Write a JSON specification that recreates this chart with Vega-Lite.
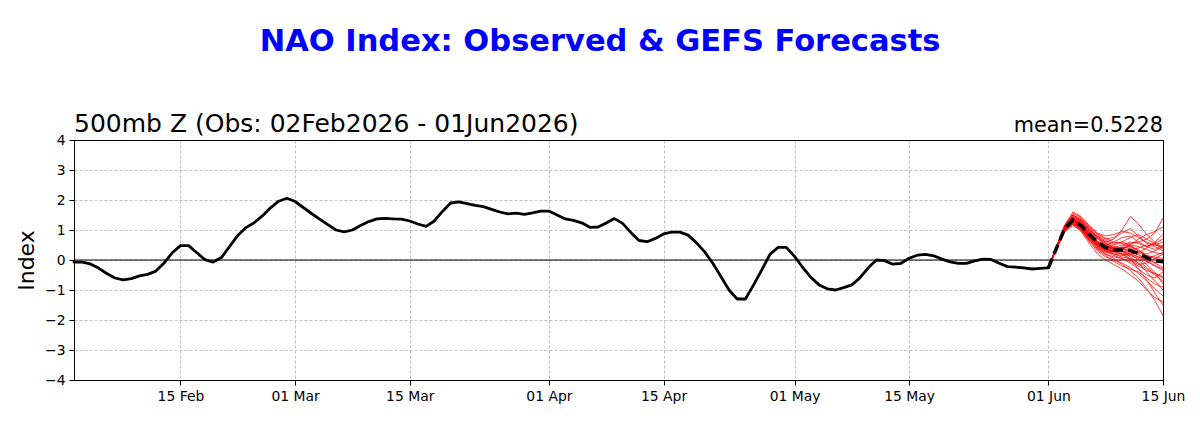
{
  "$schema": "https://vega.github.io/schema/vega-lite/v6.json",
  "width": 1089,
  "height": 240,
  "autosize": {"type": "none"},
  "padding": {"left": 74, "top": 140, "right": 37, "bottom": 50},
  "background": "white",
  "title": {"text": "NAO Index: Observed & GEFS Forecasts", "anchor": "middle", "frame": "group", "font": "DejaVu Sans", "fontSize": 30.5, "fontWeight": "bold", "color": "#0000ff", "baseline": "alphabetic", "offset": 31, "dx": -18.5},
  "config": {
    "view": {"stroke": "black", "strokeWidth": 1},
    "axis": {"labelFont": "DejaVu Sans", "labelFontSize": 13.9, "labelColor": "black", "tickColor": "black", "domainColor": "black", "tickSize": 5, "labelPadding": 4, "gridColor": "#b0b0b0", "gridWidth": 0.8, "titleFont": "DejaVu Sans", "titleFontWeight": "normal", "titleColor": "black", "labelFlush": false, "labelOverlap": false},
    "axisY": {"tickCount": 12}
  },
  "datasets": {
    "obs": [
      {"t": "2026-02-02", "v": -0.07}, {"t": "2026-02-03", "v": -0.07}, {"t": "2026-02-04", "v": -0.13}, {"t": "2026-02-05", "v": -0.27}, {"t": "2026-02-06", "v": -0.45}, {"t": "2026-02-07", "v": -0.6}, {"t": "2026-02-08", "v": -0.66}, {"t": "2026-02-09", "v": -0.62}, {"t": "2026-02-10", "v": -0.53}, {"t": "2026-02-11", "v": -0.48}, {"t": "2026-02-12", "v": -0.37}, {"t": "2026-02-13", "v": -0.1}, {"t": "2026-02-14", "v": 0.24}, {"t": "2026-02-15", "v": 0.48}, {"t": "2026-02-16", "v": 0.48}, {"t": "2026-02-17", "v": 0.24}, {"t": "2026-02-18", "v": 0.01}, {"t": "2026-02-19", "v": -0.07}, {"t": "2026-02-20", "v": 0.08}, {"t": "2026-02-21", "v": 0.45}, {"t": "2026-02-22", "v": 0.82}, {"t": "2026-02-23", "v": 1.08}, {"t": "2026-02-24", "v": 1.24}, {"t": "2026-02-25", "v": 1.47}, {"t": "2026-02-26", "v": 1.74}, {"t": "2026-02-27", "v": 1.96}, {"t": "2026-02-28", "v": 2.06},
      {"t": "2026-03-01", "v": 1.95}, {"t": "2026-03-02", "v": 1.75}, {"t": "2026-03-03", "v": 1.55}, {"t": "2026-03-04", "v": 1.36}, {"t": "2026-03-05", "v": 1.18}, {"t": "2026-03-06", "v": 1.0}, {"t": "2026-03-07", "v": 0.94}, {"t": "2026-03-08", "v": 1.0}, {"t": "2026-03-09", "v": 1.15}, {"t": "2026-03-10", "v": 1.28}, {"t": "2026-03-11", "v": 1.37}, {"t": "2026-03-12", "v": 1.39}, {"t": "2026-03-13", "v": 1.37}, {"t": "2026-03-14", "v": 1.36}, {"t": "2026-03-15", "v": 1.3}, {"t": "2026-03-16", "v": 1.2}, {"t": "2026-03-17", "v": 1.12}, {"t": "2026-03-18", "v": 1.3}, {"t": "2026-03-19", "v": 1.62}, {"t": "2026-03-20", "v": 1.9}, {"t": "2026-03-21", "v": 1.94}, {"t": "2026-03-22", "v": 1.88}, {"t": "2026-03-23", "v": 1.82}, {"t": "2026-03-24", "v": 1.78}, {"t": "2026-03-25", "v": 1.69}, {"t": "2026-03-26", "v": 1.6}, {"t": "2026-03-27", "v": 1.54}, {"t": "2026-03-28", "v": 1.56}, {"t": "2026-03-29", "v": 1.52}, {"t": "2026-03-30", "v": 1.57}, {"t": "2026-03-31", "v": 1.63},
      {"t": "2026-04-01", "v": 1.63}, {"t": "2026-04-02", "v": 1.5}, {"t": "2026-04-03", "v": 1.37}, {"t": "2026-04-04", "v": 1.32}, {"t": "2026-04-05", "v": 1.24}, {"t": "2026-04-06", "v": 1.09}, {"t": "2026-04-07", "v": 1.1}, {"t": "2026-04-08", "v": 1.23}, {"t": "2026-04-09", "v": 1.38}, {"t": "2026-04-10", "v": 1.22}, {"t": "2026-04-11", "v": 0.92}, {"t": "2026-04-12", "v": 0.65}, {"t": "2026-04-13", "v": 0.61}, {"t": "2026-04-14", "v": 0.72}, {"t": "2026-04-15", "v": 0.87}, {"t": "2026-04-16", "v": 0.93}, {"t": "2026-04-17", "v": 0.93}, {"t": "2026-04-18", "v": 0.83}, {"t": "2026-04-19", "v": 0.58}, {"t": "2026-04-20", "v": 0.28}, {"t": "2026-04-21", "v": -0.1}, {"t": "2026-04-22", "v": -0.55}, {"t": "2026-04-23", "v": -1.0}, {"t": "2026-04-24", "v": -1.3}, {"t": "2026-04-25", "v": -1.3}, {"t": "2026-04-26", "v": -0.83}, {"t": "2026-04-27", "v": -0.33}, {"t": "2026-04-28", "v": 0.19}, {"t": "2026-04-29", "v": 0.42}, {"t": "2026-04-30", "v": 0.42},
      {"t": "2026-05-01", "v": 0.12}, {"t": "2026-05-02", "v": -0.25}, {"t": "2026-05-03", "v": -0.58}, {"t": "2026-05-04", "v": -0.83}, {"t": "2026-05-05", "v": -0.96}, {"t": "2026-05-06", "v": -1.0}, {"t": "2026-05-07", "v": -0.92}, {"t": "2026-05-08", "v": -0.83}, {"t": "2026-05-09", "v": -0.59}, {"t": "2026-05-10", "v": -0.26}, {"t": "2026-05-11", "v": 0.0}, {"t": "2026-05-12", "v": -0.02}, {"t": "2026-05-13", "v": -0.14}, {"t": "2026-05-14", "v": -0.11}, {"t": "2026-05-15", "v": 0.06}, {"t": "2026-05-16", "v": 0.16}, {"t": "2026-05-17", "v": 0.19}, {"t": "2026-05-18", "v": 0.14}, {"t": "2026-05-19", "v": 0.03}, {"t": "2026-05-20", "v": -0.06}, {"t": "2026-05-21", "v": -0.11}, {"t": "2026-05-22", "v": -0.11}, {"t": "2026-05-23", "v": -0.03}, {"t": "2026-05-24", "v": 0.03}, {"t": "2026-05-25", "v": 0.02}, {"t": "2026-05-26", "v": -0.11}, {"t": "2026-05-27", "v": -0.22}, {"t": "2026-05-28", "v": -0.24}, {"t": "2026-05-29", "v": -0.26}, {"t": "2026-05-30", "v": -0.3}, {"t": "2026-05-31", "v": -0.28},
      {"t": "2026-06-01", "v": -0.26}
    ],
    "mean": [
      {"t": "2026-06-01", "v": -0.26}, {"t": "2026-06-02", "v": 0.4}, {"t": "2026-06-03", "v": 1.05}, {"t": "2026-06-04", "v": 1.33}, {"t": "2026-06-05", "v": 1.15}, {"t": "2026-06-06", "v": 0.86}, {"t": "2026-06-07", "v": 0.6}, {"t": "2026-06-08", "v": 0.42}, {"t": "2026-06-09", "v": 0.33}, {"t": "2026-06-10", "v": 0.33}, {"t": "2026-06-11", "v": 0.32}, {"t": "2026-06-12", "v": 0.22}, {"t": "2026-06-13", "v": 0.08}, {"t": "2026-06-14", "v": -0.02}, {"t": "2026-06-15", "v": -0.06}
    ],
    "ens": [
      {"m":1,"t":"2026-06-01","v":-0.26},{"m":1,"t":"2026-06-02","v":0.42},{"m":1,"t":"2026-06-03","v":1.08},{"m":1,"t":"2026-06-04","v":1.35},{"m":1,"t":"2026-06-05","v":1.22},{"m":1,"t":"2026-06-06","v":0.92},{"m":1,"t":"2026-06-07","v":0.62},{"m":1,"t":"2026-06-08","v":0.46},{"m":1,"t":"2026-06-09","v":0.4},{"m":1,"t":"2026-06-10","v":0.36},{"m":1,"t":"2026-06-11","v":0.3},{"m":1,"t":"2026-06-12","v":0.16},{"m":1,"t":"2026-06-13","v":-0.04},{"m":1,"t":"2026-06-14","v":-0.18},{"m":1,"t":"2026-06-15","v":-0.3},
      {"m":2,"t":"2026-06-01","v":-0.26},{"m":2,"t":"2026-06-02","v":0.45},{"m":2,"t":"2026-06-03","v":1.15},{"m":2,"t":"2026-06-04","v":1.55},{"m":2,"t":"2026-06-05","v":1.42},{"m":2,"t":"2026-06-06","v":1.1},{"m":2,"t":"2026-06-07","v":0.85},{"m":2,"t":"2026-06-08","v":0.7},{"m":2,"t":"2026-06-09","v":0.75},{"m":2,"t":"2026-06-10","v":0.9},{"m":2,"t":"2026-06-11","v":1.05},{"m":2,"t":"2026-06-12","v":0.8},{"m":2,"t":"2026-06-13","v":0.55},{"m":2,"t":"2026-06-14","v":0.5},{"m":2,"t":"2026-06-15","v":0.6},
      {"m":3,"t":"2026-06-01","v":-0.26},{"m":3,"t":"2026-06-02","v":0.38},{"m":3,"t":"2026-06-03","v":1.0},{"m":3,"t":"2026-06-04","v":1.22},{"m":3,"t":"2026-06-05","v":1.0},{"m":3,"t":"2026-06-06","v":0.62},{"m":3,"t":"2026-06-07","v":0.3},{"m":3,"t":"2026-06-08","v":0.1},{"m":3,"t":"2026-06-09","v":0.0},{"m":3,"t":"2026-06-10","v":-0.1},{"m":3,"t":"2026-06-11","v":-0.25},{"m":3,"t":"2026-06-12","v":-0.45},{"m":3,"t":"2026-06-13","v":-0.7},{"m":3,"t":"2026-06-14","v":-0.95},{"m":3,"t":"2026-06-15","v":-1.2},
      {"m":4,"t":"2026-06-01","v":-0.26},{"m":4,"t":"2026-06-02","v":0.4},{"m":4,"t":"2026-06-03","v":1.05},{"m":4,"t":"2026-06-04","v":1.3},{"m":4,"t":"2026-06-05","v":1.15},{"m":4,"t":"2026-06-06","v":0.8},{"m":4,"t":"2026-06-07","v":0.55},{"m":4,"t":"2026-06-08","v":0.5},{"m":4,"t":"2026-06-09","v":0.6},{"m":4,"t":"2026-06-10","v":0.75},{"m":4,"t":"2026-06-11","v":0.8},{"m":4,"t":"2026-06-12","v":0.6},{"m":4,"t":"2026-06-13","v":0.45},{"m":4,"t":"2026-06-14","v":0.55},{"m":4,"t":"2026-06-15","v":0.7},
      {"m":5,"t":"2026-06-01","v":-0.26},{"m":5,"t":"2026-06-02","v":0.43},{"m":5,"t":"2026-06-03","v":1.1},{"m":5,"t":"2026-06-04","v":1.45},{"m":5,"t":"2026-06-05","v":1.3},{"m":5,"t":"2026-06-06","v":0.95},{"m":5,"t":"2026-06-07","v":0.7},{"m":5,"t":"2026-06-08","v":0.55},{"m":5,"t":"2026-06-09","v":0.45},{"m":5,"t":"2026-06-10","v":0.4},{"m":5,"t":"2026-06-11","v":0.45},{"m":5,"t":"2026-06-12","v":0.35},{"m":5,"t":"2026-06-13","v":0.1},{"m":5,"t":"2026-06-14","v":-0.1},{"m":5,"t":"2026-06-15","v":-0.25},
      {"m":6,"t":"2026-06-01","v":-0.26},{"m":6,"t":"2026-06-02","v":0.36},{"m":6,"t":"2026-06-03","v":0.95},{"m":6,"t":"2026-06-04","v":1.15},{"m":6,"t":"2026-06-05","v":0.98},{"m":6,"t":"2026-06-06","v":0.68},{"m":6,"t":"2026-06-07","v":0.4},{"m":6,"t":"2026-06-08","v":0.2},{"m":6,"t":"2026-06-09","v":0.05},{"m":6,"t":"2026-06-10","v":-0.15},{"m":6,"t":"2026-06-11","v":-0.35},{"m":6,"t":"2026-06-12","v":-0.6},{"m":6,"t":"2026-06-13","v":-0.95},{"m":6,"t":"2026-06-14","v":-1.35},{"m":6,"t":"2026-06-15","v":-1.85},
      {"m":7,"t":"2026-06-01","v":-0.26},{"m":7,"t":"2026-06-02","v":0.41},{"m":7,"t":"2026-06-03","v":1.07},{"m":7,"t":"2026-06-04","v":1.38},{"m":7,"t":"2026-06-05","v":1.25},{"m":7,"t":"2026-06-06","v":1.0},{"m":7,"t":"2026-06-07","v":0.8},{"m":7,"t":"2026-06-08","v":0.65},{"m":7,"t":"2026-06-09","v":0.55},{"m":7,"t":"2026-06-10","v":0.6},{"m":7,"t":"2026-06-11","v":0.5},{"m":7,"t":"2026-06-12","v":0.3},{"m":7,"t":"2026-06-13","v":0.2},{"m":7,"t":"2026-06-14","v":0.3},{"m":7,"t":"2026-06-15","v":0.45},
      {"m":8,"t":"2026-06-01","v":-0.26},{"m":8,"t":"2026-06-02","v":0.39},{"m":8,"t":"2026-06-03","v":1.02},{"m":8,"t":"2026-06-04","v":1.28},{"m":8,"t":"2026-06-05","v":1.08},{"m":8,"t":"2026-06-06","v":0.7},{"m":8,"t":"2026-06-07","v":0.45},{"m":8,"t":"2026-06-08","v":0.3},{"m":8,"t":"2026-06-09","v":0.2},{"m":8,"t":"2026-06-10","v":0.1},{"m":8,"t":"2026-06-11","v":0.05},{"m":8,"t":"2026-06-12","v":-0.1},{"m":8,"t":"2026-06-13","v":-0.3},{"m":8,"t":"2026-06-14","v":-0.5},{"m":8,"t":"2026-06-15","v":-0.7},
      {"m":9,"t":"2026-06-01","v":-0.26},{"m":9,"t":"2026-06-02","v":0.44},{"m":9,"t":"2026-06-03","v":1.12},{"m":9,"t":"2026-06-04","v":1.5},{"m":9,"t":"2026-06-05","v":1.35},{"m":9,"t":"2026-06-06","v":1.05},{"m":9,"t":"2026-06-07","v":0.8},{"m":9,"t":"2026-06-08","v":0.6},{"m":9,"t":"2026-06-09","v":0.7},{"m":9,"t":"2026-06-10","v":1.0},{"m":9,"t":"2026-06-11","v":1.45},{"m":9,"t":"2026-06-12","v":1.2},{"m":9,"t":"2026-06-13","v":0.85},{"m":9,"t":"2026-06-14","v":0.6},{"m":9,"t":"2026-06-15","v":0.4},
      {"m":10,"t":"2026-06-01","v":-0.26},{"m":10,"t":"2026-06-02","v":0.4},{"m":10,"t":"2026-06-03","v":1.04},{"m":10,"t":"2026-06-04","v":1.32},{"m":10,"t":"2026-06-05","v":1.12},{"m":10,"t":"2026-06-06","v":0.75},{"m":10,"t":"2026-06-07","v":0.42},{"m":10,"t":"2026-06-08","v":0.25},{"m":10,"t":"2026-06-09","v":0.3},{"m":10,"t":"2026-06-10","v":0.45},{"m":10,"t":"2026-06-11","v":0.55},{"m":10,"t":"2026-06-12","v":0.6},{"m":10,"t":"2026-06-13","v":0.7},{"m":10,"t":"2026-06-14","v":0.9},{"m":10,"t":"2026-06-15","v":1.4},
      {"m":11,"t":"2026-06-01","v":-0.26},{"m":11,"t":"2026-06-02","v":0.37},{"m":11,"t":"2026-06-03","v":0.98},{"m":11,"t":"2026-06-04","v":1.2},{"m":11,"t":"2026-06-05","v":1.02},{"m":11,"t":"2026-06-06","v":0.65},{"m":11,"t":"2026-06-07","v":0.35},{"m":11,"t":"2026-06-08","v":0.15},{"m":11,"t":"2026-06-09","v":-0.05},{"m":11,"t":"2026-06-10","v":-0.2},{"m":11,"t":"2026-06-11","v":-0.3},{"m":11,"t":"2026-06-12","v":-0.4},{"m":11,"t":"2026-06-13","v":-0.6},{"m":11,"t":"2026-06-14","v":-0.8},{"m":11,"t":"2026-06-15","v":-0.9},
      {"m":12,"t":"2026-06-01","v":-0.26},{"m":12,"t":"2026-06-02","v":0.42},{"m":12,"t":"2026-06-03","v":1.09},{"m":12,"t":"2026-06-04","v":1.4},{"m":12,"t":"2026-06-05","v":1.28},{"m":12,"t":"2026-06-06","v":0.98},{"m":12,"t":"2026-06-07","v":0.72},{"m":12,"t":"2026-06-08","v":0.5},{"m":12,"t":"2026-06-09","v":0.35},{"m":12,"t":"2026-06-10","v":0.25},{"m":12,"t":"2026-06-11","v":0.2},{"m":12,"t":"2026-06-12","v":0.0},{"m":12,"t":"2026-06-13","v":-0.25},{"m":12,"t":"2026-06-14","v":-0.45},{"m":12,"t":"2026-06-15","v":-0.55},
      {"m":13,"t":"2026-06-01","v":-0.26},{"m":13,"t":"2026-06-02","v":0.41},{"m":13,"t":"2026-06-03","v":1.06},{"m":13,"t":"2026-06-04","v":1.33},{"m":13,"t":"2026-06-05","v":1.18},{"m":13,"t":"2026-06-06","v":0.85},{"m":13,"t":"2026-06-07","v":0.58},{"m":13,"t":"2026-06-08","v":0.45},{"m":13,"t":"2026-06-09","v":0.38},{"m":13,"t":"2026-06-10","v":0.3},{"m":13,"t":"2026-06-11","v":0.1},{"m":13,"t":"2026-06-12","v":-0.1},{"m":13,"t":"2026-06-13","v":-0.4},{"m":13,"t":"2026-06-14","v":-0.7},{"m":13,"t":"2026-06-15","v":-1.0},
      {"m":14,"t":"2026-06-01","v":-0.26},{"m":14,"t":"2026-06-02","v":0.43},{"m":14,"t":"2026-06-03","v":1.1},{"m":14,"t":"2026-06-04","v":1.42},{"m":14,"t":"2026-06-05","v":1.25},{"m":14,"t":"2026-06-06","v":0.9},{"m":14,"t":"2026-06-07","v":0.6},{"m":14,"t":"2026-06-08","v":0.4},{"m":14,"t":"2026-06-09","v":0.3},{"m":14,"t":"2026-06-10","v":0.35},{"m":14,"t":"2026-06-11","v":0.5},{"m":14,"t":"2026-06-12","v":0.7},{"m":14,"t":"2026-06-13","v":0.85},{"m":14,"t":"2026-06-14","v":0.95},{"m":14,"t":"2026-06-15","v":1.1},
      {"m":15,"t":"2026-06-01","v":-0.26},{"m":15,"t":"2026-06-02","v":0.38},{"m":15,"t":"2026-06-03","v":1.01},{"m":15,"t":"2026-06-04","v":1.25},{"m":15,"t":"2026-06-05","v":1.05},{"m":15,"t":"2026-06-06","v":0.72},{"m":15,"t":"2026-06-07","v":0.5},{"m":15,"t":"2026-06-08","v":0.35},{"m":15,"t":"2026-06-09","v":0.28},{"m":15,"t":"2026-06-10","v":0.2},{"m":15,"t":"2026-06-11","v":0.05},{"m":15,"t":"2026-06-12","v":-0.3},{"m":15,"t":"2026-06-13","v":-0.65},{"m":15,"t":"2026-06-14","v":-1.1},{"m":15,"t":"2026-06-15","v":-1.5},
      {"m":16,"t":"2026-06-01","v":-0.26},{"m":16,"t":"2026-06-02","v":0.46},{"m":16,"t":"2026-06-03","v":1.17},{"m":16,"t":"2026-06-04","v":1.6},{"m":16,"t":"2026-06-05","v":1.45},{"m":16,"t":"2026-06-06","v":1.15},{"m":16,"t":"2026-06-07","v":0.9},{"m":16,"t":"2026-06-08","v":0.8},{"m":16,"t":"2026-06-09","v":0.85},{"m":16,"t":"2026-06-10","v":0.95},{"m":16,"t":"2026-06-11","v":0.9},{"m":16,"t":"2026-06-12","v":0.75},{"m":16,"t":"2026-06-13","v":0.6},{"m":16,"t":"2026-06-14","v":0.5},{"m":16,"t":"2026-06-15","v":0.45},
      {"m":17,"t":"2026-06-01","v":-0.26},{"m":17,"t":"2026-06-02","v":0.4},{"m":17,"t":"2026-06-03","v":1.03},{"m":17,"t":"2026-06-04","v":1.3},{"m":17,"t":"2026-06-05","v":1.1},{"m":17,"t":"2026-06-06","v":0.78},{"m":17,"t":"2026-06-07","v":0.52},{"m":17,"t":"2026-06-08","v":0.32},{"m":17,"t":"2026-06-09","v":0.2},{"m":17,"t":"2026-06-10","v":0.15},{"m":17,"t":"2026-06-11","v":0.2},{"m":17,"t":"2026-06-12","v":0.25},{"m":17,"t":"2026-06-13","v":0.15},{"m":17,"t":"2026-06-14","v":0.05},{"m":17,"t":"2026-06-15","v":0.0},
      {"m":18,"t":"2026-06-01","v":-0.26},{"m":18,"t":"2026-06-02","v":0.39},{"m":18,"t":"2026-06-03","v":1.0},{"m":18,"t":"2026-06-04","v":1.24},{"m":18,"t":"2026-06-05","v":1.06},{"m":18,"t":"2026-06-06","v":0.73},{"m":18,"t":"2026-06-07","v":0.45},{"m":18,"t":"2026-06-08","v":0.28},{"m":18,"t":"2026-06-09","v":0.15},{"m":18,"t":"2026-06-10","v":0.05},{"m":18,"t":"2026-06-11","v":-0.05},{"m":18,"t":"2026-06-12","v":-0.2},{"m":18,"t":"2026-06-13","v":-0.35},{"m":18,"t":"2026-06-14","v":-0.45},{"m":18,"t":"2026-06-15","v":-0.6},
      {"m":19,"t":"2026-06-01","v":-0.26},{"m":19,"t":"2026-06-02","v":0.42},{"m":19,"t":"2026-06-03","v":1.08},{"m":19,"t":"2026-06-04","v":1.36},{"m":19,"t":"2026-06-05","v":1.2},{"m":19,"t":"2026-06-06","v":0.88},{"m":19,"t":"2026-06-07","v":0.6},{"m":19,"t":"2026-06-08","v":0.42},{"m":19,"t":"2026-06-09","v":0.35},{"m":19,"t":"2026-06-10","v":0.4},{"m":19,"t":"2026-06-11","v":0.5},{"m":19,"t":"2026-06-12","v":0.45},{"m":19,"t":"2026-06-13","v":0.35},{"m":19,"t":"2026-06-14","v":0.25},{"m":19,"t":"2026-06-15","v":0.2},
      {"m":20,"t":"2026-06-01","v":-0.26},{"m":20,"t":"2026-06-02","v":0.44},{"m":20,"t":"2026-06-03","v":1.13},{"m":20,"t":"2026-06-04","v":1.48},{"m":20,"t":"2026-06-05","v":1.38},{"m":20,"t":"2026-06-06","v":1.1},{"m":20,"t":"2026-06-07","v":0.88},{"m":20,"t":"2026-06-08","v":0.72},{"m":20,"t":"2026-06-09","v":0.6},{"m":20,"t":"2026-06-10","v":0.55},{"m":20,"t":"2026-06-11","v":0.45},{"m":20,"t":"2026-06-12","v":0.3},{"m":20,"t":"2026-06-13","v":0.15},{"m":20,"t":"2026-06-14","v":0.1},{"m":20,"t":"2026-06-15","v":0.05},
      {"m":21,"t":"2026-06-01","v":-0.26},{"m":21,"t":"2026-06-02","v":0.37},{"m":21,"t":"2026-06-03","v":0.97},{"m":21,"t":"2026-06-04","v":1.18},{"m":21,"t":"2026-06-05","v":0.95},{"m":21,"t":"2026-06-06","v":0.55},{"m":21,"t":"2026-06-07","v":0.2},{"m":21,"t":"2026-06-08","v":0.0},{"m":21,"t":"2026-06-09","v":-0.15},{"m":21,"t":"2026-06-10","v":-0.3},{"m":21,"t":"2026-06-11","v":-0.5},{"m":21,"t":"2026-06-12","v":-0.7},{"m":21,"t":"2026-06-13","v":-1.0},{"m":21,"t":"2026-06-14","v":-1.25},{"m":21,"t":"2026-06-15","v":-1.4},
      {"m":22,"t":"2026-06-01","v":-0.26},{"m":22,"t":"2026-06-02","v":0.41},{"m":22,"t":"2026-06-03","v":1.05},{"m":22,"t":"2026-06-04","v":1.32},{"m":22,"t":"2026-06-05","v":1.15},{"m":22,"t":"2026-06-06","v":0.82},{"m":22,"t":"2026-06-07","v":0.55},{"m":22,"t":"2026-06-08","v":0.38},{"m":22,"t":"2026-06-09","v":0.32},{"m":22,"t":"2026-06-10","v":0.35},{"m":22,"t":"2026-06-11","v":0.3},{"m":22,"t":"2026-06-12","v":0.25},{"m":22,"t":"2026-06-13","v":0.4},{"m":22,"t":"2026-06-14","v":0.6},{"m":22,"t":"2026-06-15","v":0.85},
      {"m":23,"t":"2026-06-01","v":-0.26},{"m":23,"t":"2026-06-02","v":0.4},{"m":23,"t":"2026-06-03","v":1.04},{"m":23,"t":"2026-06-04","v":1.3},{"m":23,"t":"2026-06-05","v":1.12},{"m":23,"t":"2026-06-06","v":0.8},{"m":23,"t":"2026-06-07","v":0.5},{"m":23,"t":"2026-06-08","v":0.35},{"m":23,"t":"2026-06-09","v":0.3},{"m":23,"t":"2026-06-10","v":0.2},{"m":23,"t":"2026-06-11","v":0.0},{"m":23,"t":"2026-06-12","v":-0.15},{"m":23,"t":"2026-06-13","v":-0.1},{"m":23,"t":"2026-06-14","v":0.05},{"m":23,"t":"2026-06-15","v":0.2},
      {"m":24,"t":"2026-06-01","v":-0.26},{"m":24,"t":"2026-06-02","v":0.43},{"m":24,"t":"2026-06-03","v":1.11},{"m":24,"t":"2026-06-04","v":1.44},{"m":24,"t":"2026-06-05","v":1.3},{"m":24,"t":"2026-06-06","v":1.0},{"m":24,"t":"2026-06-07","v":0.75},{"m":24,"t":"2026-06-08","v":0.6},{"m":24,"t":"2026-06-09","v":0.5},{"m":24,"t":"2026-06-10","v":0.6},{"m":24,"t":"2026-06-11","v":0.75},{"m":24,"t":"2026-06-12","v":0.85},{"m":24,"t":"2026-06-13","v":0.7},{"m":24,"t":"2026-06-14","v":0.55},{"m":24,"t":"2026-06-15","v":0.35},
      {"m":25,"t":"2026-06-01","v":-0.26},{"m":25,"t":"2026-06-02","v":0.39},{"m":25,"t":"2026-06-03","v":1.02},{"m":25,"t":"2026-06-04","v":1.27},{"m":25,"t":"2026-06-05","v":1.08},{"m":25,"t":"2026-06-06","v":0.74},{"m":25,"t":"2026-06-07","v":0.48},{"m":25,"t":"2026-06-08","v":0.35},{"m":25,"t":"2026-06-09","v":0.3},{"m":25,"t":"2026-06-10","v":0.3},{"m":25,"t":"2026-06-11","v":0.25},{"m":25,"t":"2026-06-12","v":0.1},{"m":25,"t":"2026-06-13","v":-0.05},{"m":25,"t":"2026-06-14","v":-0.2},{"m":25,"t":"2026-06-15","v":-0.35},
      {"m":26,"t":"2026-06-01","v":-0.26},{"m":26,"t":"2026-06-02","v":0.42},{"m":26,"t":"2026-06-03","v":1.07},{"m":26,"t":"2026-06-04","v":1.37},{"m":26,"t":"2026-06-05","v":1.2},{"m":26,"t":"2026-06-06","v":0.87},{"m":26,"t":"2026-06-07","v":0.62},{"m":26,"t":"2026-06-08","v":0.5},{"m":26,"t":"2026-06-09","v":0.42},{"m":26,"t":"2026-06-10","v":0.38},{"m":26,"t":"2026-06-11","v":0.35},{"m":26,"t":"2026-06-12","v":0.4},{"m":26,"t":"2026-06-13","v":0.5},{"m":26,"t":"2026-06-14","v":0.45},{"m":26,"t":"2026-06-15","v":0.3},
      {"m":27,"t":"2026-06-01","v":-0.26},{"m":27,"t":"2026-06-02","v":0.38},{"m":27,"t":"2026-06-03","v":0.99},{"m":27,"t":"2026-06-04","v":1.22},{"m":27,"t":"2026-06-05","v":1.02},{"m":27,"t":"2026-06-06","v":0.66},{"m":27,"t":"2026-06-07","v":0.38},{"m":27,"t":"2026-06-08","v":0.2},{"m":27,"t":"2026-06-09","v":0.1},{"m":27,"t":"2026-06-10","v":0.05},{"m":27,"t":"2026-06-11","v":-0.1},{"m":27,"t":"2026-06-12","v":-0.3},{"m":27,"t":"2026-06-13","v":-0.5},{"m":27,"t":"2026-06-14","v":-0.6},{"m":27,"t":"2026-06-15","v":-0.4},
      {"m":28,"t":"2026-06-01","v":-0.26},{"m":28,"t":"2026-06-02","v":0.41},{"m":28,"t":"2026-06-03","v":1.06},{"m":28,"t":"2026-06-04","v":1.34},{"m":28,"t":"2026-06-05","v":1.16},{"m":28,"t":"2026-06-06","v":0.84},{"m":28,"t":"2026-06-07","v":0.58},{"m":28,"t":"2026-06-08","v":0.45},{"m":28,"t":"2026-06-09","v":0.42},{"m":28,"t":"2026-06-10","v":0.5},{"m":28,"t":"2026-06-11","v":0.6},{"m":28,"t":"2026-06-12","v":0.55},{"m":28,"t":"2026-06-13","v":0.45},{"m":28,"t":"2026-06-14","v":0.35},{"m":28,"t":"2026-06-15","v":0.5},
      {"m":29,"t":"2026-06-01","v":-0.26},{"m":29,"t":"2026-06-02","v":0.44},{"m":29,"t":"2026-06-03","v":1.12},{"m":29,"t":"2026-06-04","v":1.5},{"m":29,"t":"2026-06-05","v":1.34},{"m":29,"t":"2026-06-06","v":1.02},{"m":29,"t":"2026-06-07","v":0.75},{"m":29,"t":"2026-06-08","v":0.55},{"m":29,"t":"2026-06-09","v":0.4},{"m":29,"t":"2026-06-10","v":0.3},{"m":29,"t":"2026-06-11","v":0.2},{"m":29,"t":"2026-06-12","v":0.1},{"m":29,"t":"2026-06-13","v":0.05},{"m":29,"t":"2026-06-14","v":0.15},{"m":29,"t":"2026-06-15","v":0.25},
      {"m":30,"t":"2026-06-01","v":-0.26},{"m":30,"t":"2026-06-02","v":0.4},{"m":30,"t":"2026-06-03","v":1.04},{"m":30,"t":"2026-06-04","v":1.31},{"m":30,"t":"2026-06-05","v":1.12},{"m":30,"t":"2026-06-06","v":0.78},{"m":30,"t":"2026-06-07","v":0.5},{"m":30,"t":"2026-06-08","v":0.33},{"m":30,"t":"2026-06-09","v":0.25},{"m":30,"t":"2026-06-10","v":0.2},{"m":30,"t":"2026-06-11","v":0.15},{"m":30,"t":"2026-06-12","v":0.05},{"m":30,"t":"2026-06-13","v":-0.15},{"m":30,"t":"2026-06-14","v":-0.4},{"m":30,"t":"2026-06-15","v":-0.8},
      {"m":31,"t":"2026-06-01","v":-0.26},{"m":31,"t":"2026-06-02","v":0.4},{"m":31,"t":"2026-06-03","v":1.05},{"m":31,"t":"2026-06-04","v":1.33},{"m":31,"t":"2026-06-05","v":1.14},{"m":31,"t":"2026-06-06","v":0.8},{"m":31,"t":"2026-06-07","v":0.55},{"m":31,"t":"2026-06-08","v":0.42},{"m":31,"t":"2026-06-09","v":0.38},{"m":31,"t":"2026-06-10","v":0.42},{"m":31,"t":"2026-06-11","v":0.4},{"m":31,"t":"2026-06-12","v":0.2},{"m":31,"t":"2026-06-13","v":0.0},{"m":31,"t":"2026-06-14","v":-0.1},{"m":31,"t":"2026-06-15","v":0.0}
    ]
  },
  "layer": [
    {
      "data": {"name": "obs"},
      "mark": {"type": "line", "color": "black", "strokeWidth": 2.8, "strokeJoin": "round", "strokeCap": "round"},
      "encoding": {
        "x": {"field": "t", "type": "temporal",
              "scale": {"type": "utc", "domain": [{"year": 2026, "month": 2, "date": 2, "utc": true}, {"year": 2026, "month": 6, "date": 15, "utc": true}], "nice": false},
              "axis": {"title": null, "format": "%d %b", "grid": true, "tickCount": 20,
                "gridDash": {"condition": {"test": "datum.value >= utc(2026, 5, 15)", "value": []}, "value": [3, 2]},
                "gridColor": {"condition": {"test": "datum.value >= utc(2026, 5, 15)", "value": "black"}, "value": "#b0b0b0"},
                "values": [
                {"year": 2026, "month": 2, "date": 15, "utc": true}, {"year": 2026, "month": 3, "date": 1, "utc": true}, {"year": 2026, "month": 3, "date": 15, "utc": true}, {"year": 2026, "month": 4, "date": 1, "utc": true}, {"year": 2026, "month": 4, "date": 15, "utc": true}, {"year": 2026, "month": 5, "date": 1, "utc": true}, {"year": 2026, "month": 5, "date": 15, "utc": true}, {"year": 2026, "month": 6, "date": 1, "utc": true}, {"year": 2026, "month": 6, "date": 15, "utc": true}]}},
        "y": {"field": "v", "type": "quantitative",
              "scale": {"domain": [-4, 4], "nice": false, "zero": false},
              "axis": {"title": "Index", "titleFontSize": 22, "titlePadding": 6, "tickCount": 12, "format": "d", "values": [-4, -3, -2, -1, 0, 1, 2, 3, 4], "grid": true,
                "gridDash": {"condition": {"test": "abs(datum.value) >= 4", "value": []}, "value": [3, 2]},
                "gridColor": {"condition": {"test": "abs(datum.value) >= 4", "value": "black"}, "value": "#b0b0b0"}}}
      }
    },
    {
      "data": {"values": [{"v": 0}]},
      "mark": {"type": "rule", "color": "black", "strokeWidth": 1},
      "encoding": {"y": {"field": "v", "type": "quantitative"}}
    },
    {
      "data": {"name": "ens"},
      "mark": {"type": "line", "color": "#ff0000", "strokeWidth": 1, "opacity": 0.75},
      "encoding": {
        "x": {"field": "t", "type": "temporal"},
        "y": {"field": "v", "type": "quantitative"},
        "detail": {"field": "m", "type": "nominal"}
      }
    },
    {
      "data": {"name": "mean"},
      "mark": {"type": "line", "color": "black", "strokeWidth": 3.5, "strokeDash": [10, 5]},
      "encoding": {
        "x": {"field": "t", "type": "temporal"},
        "y": {"field": "v", "type": "quantitative"}
      }
    },
    {
      "data": {"values": [{"label": "500mb Z (Obs: 02Feb2026 - 01Jun2026)"}]},
      "mark": {"type": "text", "align": "left", "baseline": "alphabetic", "dy": -8, "font": "DejaVu Sans", "fontSize": 25, "color": "black"},
      "encoding": {
        "x": {"datum": {"year": 2026, "month": 2, "date": 2, "utc": true}, "type": "temporal"},
        "y": {"datum": 4, "type": "quantitative"},
        "text": {"field": "label"}
      }
    },
    {
      "data": {"values": [{"label": "mean=0.5228"}]},
      "mark": {"type": "text", "align": "right", "baseline": "alphabetic", "dy": -8, "font": "DejaVu Sans", "fontSize": 20.8, "color": "black"},
      "encoding": {
        "x": {"datum": {"year": 2026, "month": 6, "date": 15, "utc": true}, "type": "temporal"},
        "y": {"datum": 4, "type": "quantitative"},
        "text": {"field": "label"}
      }
    }
  ]
}
